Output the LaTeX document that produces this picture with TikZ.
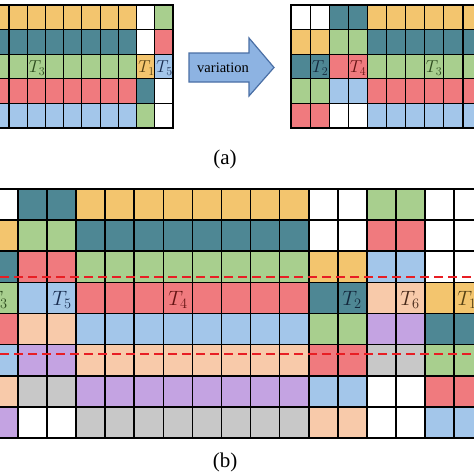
\documentclass[tikz,border=0pt]{standalone}
\usepackage{fontspec}
\newfontfamily\capfont{Liberation Serif}
\definecolor{cY}{RGB}{243,197,110}
\definecolor{cT}{RGB}{78,135,148}
\definecolor{cG}{RGB}{168,207,142}
\definecolor{cR}{RGB}{240,122,126}
\definecolor{cB}{RGB}{163,198,234}
\definecolor{cP}{RGB}{248,202,170}
\definecolor{cV}{RGB}{196,163,226}
\definecolor{cS}{RGB}{200,200,200}
\definecolor{cW}{RGB}{255,255,255}
\definecolor{arrowfill}{RGB}{141,179,226}
\definecolor{arrowdraw}{RGB}{74,111,165}
\definecolor{dashred}{RGB}{232,30,36}
\definecolor{lblG}{RGB}{45,75,30}
\definecolor{lblY}{RGB}{85,65,20}
\definecolor{lblB}{RGB}{25,45,80}
\definecolor{lblR}{RGB}{100,20,20}
\definecolor{lblT}{RGB}{20,40,60}
\definecolor{lblP}{RGB}{70,40,25}
\tikzset{
  cellA/.style={draw=black,line width=1.2pt},
  cellB/.style={draw=black,line width=1.7pt},
  lblA/.style={inner sep=0pt,font=\fontsize{17}{17}\selectfont},
  lblB/.style={inner sep=0pt,font=\fontsize{21}{21}\selectfont},
  capt/.style={inner sep=0pt,font=\capfont\fontsize{21}{21}\selectfont},
  cutline/.style={draw=dashred,line width=2.6pt,dash pattern=on 9pt off 5pt},
}
\begin{document}
\begin{tikzpicture}[x=1pt,y=-1pt]
\useasboundingbox (0,0) rectangle (474,474);
\clip (0,0) rectangle (474,474);
\fill[white] (0,0) rectangle (474,474);
% (a) left grid
\foreach \row [count=\i from 0] in {
  {Y,Y,Y,Y,Y,Y,Y,Y,W,G},
  {T,T,T,T,T,T,T,T,W,R},
  {G,G,G,G,G,G,G,G,Y,B},
  {R,R,R,R,R,R,R,R,T,W},
  {B,B,B,B,B,B,B,B,G,W}}{
  \foreach \c [count=\j from 0] in \row {
    \filldraw[cellA,fill=c\c] ({9+18.22*(\j-1)},{5+24.6*\i}) rectangle ++(18.22,24.6);
  }
}
% (a) right grid
\foreach \row [count=\i from 0] in {
  {W,W,T,T,Y,Y,Y,Y,Y,Y},
  {Y,Y,G,G,T,T,T,T,T,T},
  {T,T,R,R,G,G,G,G,G,G},
  {G,G,B,B,R,R,R,R,R,R},
  {R,R,W,W,B,B,B,B,B,B}}{
  \foreach \c [count=\j from 0] in \row {
    \filldraw[cellA,fill=c\c] ({291+19.1*\j},{5+24.6*\i}) rectangle ++(19.1,24.6);
  }
}
% (a) labels
\node[lblA,text=lblG] (a3) at (37,68) {$T_3$};
\node[lblA,text=lblY] (a1) at (146.5,68) {$T_1$};
\node[lblA,text=lblB] (a5) at (164.5,68) {$T_5$};
\node[lblA,text=lblT] (b2) at (320,68) {$T_2$};
\node[lblA,text=lblR] (b4) at (358,68) {$T_4$};
\node[lblA,text=lblG] (b3) at (434,68) {$T_3$};
% arrow
\filldraw[fill=arrowfill,draw=arrowdraw,line width=1.2pt,line join=miter]
  (189,53) -- (249,53) -- (249,38) -- (274,67.5) -- (249,96) -- (249,82) -- (189,82) -- cycle;
\node[inner sep=0pt,font=\capfont\fontsize{14.5}{14.5}\selectfont] (var) at (223,68) {variation};
\node[capt] (capa) at (225,159) {(a)};
% (b) grid
\foreach \row [count=\i from 0] in {
  {W,T,T,Y,Y,Y,Y,Y,Y,Y,Y,W,W,G,G,W,W},
  {Y,G,G,T,T,T,T,T,T,T,T,W,W,R,R,W,W},
  {T,R,R,G,G,G,G,G,G,G,G,Y,Y,B,B,W,W},
  {G,B,B,R,R,R,R,R,R,R,R,T,T,P,P,Y,Y},
  {R,P,P,B,B,B,B,B,B,B,B,G,G,V,V,T,T},
  {B,V,V,P,P,P,P,P,P,P,P,R,R,S,S,G,G},
  {P,S,S,V,V,V,V,V,V,V,V,B,B,W,W,R,R},
  {V,W,W,S,S,S,S,S,S,S,S,P,P,W,W,B,B}}{
  \foreach \c [count=\j from 0] in \row {
    \filldraw[cellB,fill=c\c] ({18+29.07*(\j-1)},{189+31.125*\i}) rectangle ++(29.07,31.125);
  }
}
% (b) labels
\node[lblB,text=lblG] (c3) at (-2,300) {$T_3$};
\node[lblB,text=lblB] (c5) at (62,300) {$T_5$};
\node[lblB,text=lblR] (c4) at (178,300) {$T_4$};
\node[lblB,text=lblT] (c2) at (352,300) {$T_2$};
\node[lblB,text=lblP] (c6) at (410,300) {$T_6$};
\node[lblB,text=lblY] (c1) at (467,300) {$T_1$};
% dashed lines
\coordinate (d1l) at (0,277);
\coordinate (d1r) at (474,277);
\coordinate (d2l) at (0,354);
\coordinate (d2r) at (474,354);
\draw[cutline] (d1l) -- (d1r);
\draw[cutline] (d2l) -- (d2r);
\node[capt] (capb) at (225,462) {(b)};
\end{tikzpicture}
\end{document}
